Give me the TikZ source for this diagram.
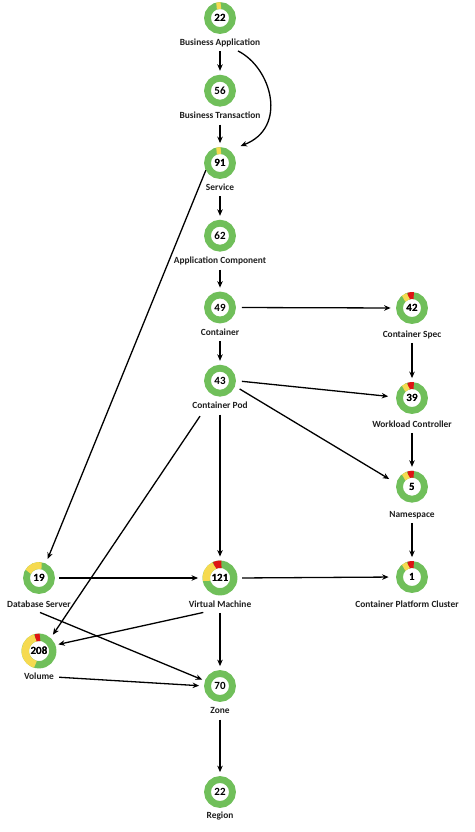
\documentclass[tikz,border=0pt]{standalone}
\usepackage{fontspec}
\setmainfont{Carlito}
\usetikzlibrary{arrows.meta,calc}
\definecolor{rgreen}{RGB}{112,191,90}
\definecolor{ryellow}{RGB}{246,218,80}
\definecolor{rred}{RGB}{222,20,20}
\definecolor{txt}{RGB}{30,30,30}
\newcommand\numfnt{\fontsize{11}{12}\selectfont\bfseries}
\newcommand\lblfnt{\fontsize{9.4}{11}\selectfont\bfseries}
\begin{document}
\begin{tikzpicture}[
  ring/.style={circle, draw=rgreen, line width=6.8pt, minimum size=25pt, inner sep=0pt, font=\numfnt, text=black},
  ringL/.style={ring, line width=7.4pt, minimum size=27.5pt},
  lbl/.style={font=\lblfnt, text=txt, inner sep=1pt, text height=6.5pt, text depth=2pt},
  arr/.style={-{Stealth[length=6.5pt,width=5.5pt]}, line width=1.3pt, draw=black},
  arrV/.style={arr, shorten <=2.5pt, shorten >=4pt},
  segY/.style={draw=ryellow, line width=6.8pt},
  segR/.style={draw=rred, line width=6.8pt},
  segYL/.style={draw=ryellow, line width=7.4pt},
  segRL/.style={draw=rred, line width=7.4pt}
]
\useasboundingbox (0,0) rectangle (474pt,-832pt);
\begin{scope}[x=1pt,y=1pt]
% rings
\node[ring] (ba) at (220,-18) {22};
\node[ring] (bt) at (220,-90.7) {56};
\node[ring] (svc) at (220,-163) {91};
\node[ring] (ac) at (220,-235.7) {62};
\node[ring] (ct) at (220,-307.5) {49};
\node[ring] (pod) at (220,-380.7) {43};
\node[ring] (cs) at (412,-308) {42};
\node[ring] (wc) at (412,-398) {39};
\node[ring] (ns) at (412,-486.7) {5};
\node[ring] (cpc) at (412,-577) {1};
\node[ring] (db) at (39,-578) {19};
\node[ringL] (vm) at (220,-578) {121};
\node[ringL] (vol) at (39,-651) {208};
\node[ring] (zone) at (220,-686) {70};
\node[ring] (reg) at (220,-792) {22};
% segments
\draw[segY] (ba.center) ++(86:12.5pt) arc[start angle=86, end angle=106, radius=12.5pt];
\draw[segY] (svc.center) ++(86:12.5pt) arc[start angle=86, end angle=106, radius=12.5pt];
\foreach \n in {cs,wc,ns,cpc}{
  \draw[segR] (\n.center) ++(82:12.5pt) arc[start angle=82, end angle=108, radius=12.5pt];
  \draw[segY] (\n.center) ++(108:12.5pt) arc[start angle=108, end angle=132, radius=12.5pt];
}
\draw[segY] (db.center) ++(78:12.5pt) arc[start angle=78, end angle=150, radius=12.5pt];
\draw[segRL] (vm.center) ++(84:13.75pt) arc[start angle=84, end angle=115, radius=13.75pt];
\draw[segYL] (vm.center) ++(115:13.75pt) arc[start angle=115, end angle=192, radius=13.75pt];
\draw[segRL] (vol.center) ++(86:13.75pt) arc[start angle=86, end angle=106, radius=13.75pt];
\draw[segYL] (vol.center) ++(106:13.75pt) arc[start angle=106, end angle=255, radius=13.75pt];
% numbers on top of segments
\foreach \n/\v in {ba/22,svc/91,cs/42,wc/39,ns/5,cpc/1,db/19,vm/121,vol/208}{
  \node[font=\numfnt, inner sep=0pt] at (\n.center) {\v};
}
% labels
\node[lbl] (baL) at (220,-43.5) {Business Application};
\node[lbl] (btL) at (220,-116.7) {Business Transaction};
\node[lbl] (svcL) at (220,-188.3) {Service};
\node[lbl] (acL) at (220,-261.7) {Application Component};
\node[lbl] (ctL) at (220,-333.3) {Container};
\node[lbl] (podL) at (220,-406.7) {Container Pod};
\node[lbl] (csL) at (412,-335) {Container Spec};
\node[lbl] (wcL) at (412,-425) {Workload Controller};
\node[lbl] (nsL) at (412,-515) {Namespace};
\node[lbl] (cpcL) at (407,-605) {Container Platform Cluster};
\node[lbl] (dbL) at (39,-605) {Database Server};
\node[lbl] (vmL) at (220,-605) {Virtual Machine};
\node[lbl] (volL) at (39,-677) {Volume};
\node[lbl] (zoneL) at (220,-711.7) {Zone};
\node[lbl] (regL) at (220,-816.7) {Region};
% connectors
\draw[arrV] (baL.south) -- (bt.north);
\coordinate (baOut) at ($(baL.south)+(18,-2)$);
\coordinate (svcIn) at ($(svc.center)+(20.5,17)$);
\draw[arr] (baOut) .. controls (272,-68) and (288,-128) .. (svcIn);
\draw[arrV] (btL.south) -- (svc.north);
\draw[arr, shorten >=5pt] (svc.207) -- (db.65);
\draw[arrV] (svcL.south) -- (ac.north);
\draw[arrV] (acL.south) -- (ct.north);
\draw[arr, shorten <=6pt, shorten >=5.5pt] (ct.east) -- (cs.west);
\draw[arrV] (ctL.south) -- (pod.north);
\draw[arrV] (csL.south) -- (wc.north);
\draw[arr, shorten <=6pt, shorten >=8pt] (pod.east) -- (wc.177);
\draw[arr, shorten <=5.5pt, shorten >=8.4pt] (pod.-20) -- (ns.168);
\draw[arrV] (wcL.south) -- (ns.north);
\draw[arrV] (nsL.south) -- (cpc.north);
\coordinate (podOut) at ($(podL.south)+(-20,-4)$);
\draw[arr, shorten >=4pt] (podOut) -- (vol.48);
\draw[arrV] (podL.south) -- (vm.north);
\draw[arr, shorten <=4.5pt, shorten >=4.5pt] (db.east) -- (vm.west);
\draw[arr, shorten <=4.7pt, shorten >=7.5pt] (vm.east) -- (cpc.west);
\coordinate (dbOut) at ($(dbL.south)+(1,-2)$);
\draw[arr, shorten >=3pt] (dbOut) -- (zone.161);
\coordinate (vmOut) at ($(vmL.south)+(-16.7,-2)$);
\draw[arr, shorten >=3pt] (vmOut) -- (vol.20);
\draw[arr, shorten <=4pt, shorten >=5pt] (volL.east) -- (zone.180);
\draw[arrV] (vmL.south) -- (zone.north);
\draw[arrV] (zoneL.south) -- (reg.north);
\end{scope}
\end{tikzpicture}
\end{document}
